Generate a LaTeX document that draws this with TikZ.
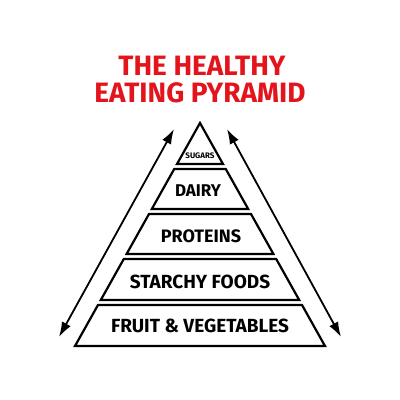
\documentclass[tikz,border=0pt]{standalone}
\usepackage{fontspec}
\setsansfont{Fira Sans}
\usepackage{tikz}
\usetikzlibrary{arrows.meta}
\definecolor{titlered}{HTML}{E3141C}

\begin{document}
\begin{tikzpicture}[
  x=1pt,y=-1pt,
  band/.style={draw,line width=2.2pt,line join=miter},
  bandtext/.style={font=\sffamily\bfseries\fontsize{#1}{#1}\selectfont,inner sep=0pt},
  titletext/.style={font=\sffamily\bfseries\fontsize{28}{28}\selectfont,
    text=titlered,inner sep=0pt},
  flow/.style={line width=1.8pt,{Latex[length=15pt,width=10pt]}-{Latex[length=15pt,width=10pt]}},
  ]
  \useasboundingbox (0,0) rectangle (400,400);
  % title
  \node[titletext] (title1) at (202,66) {THE HEALTHY};
  \node[titletext] (title2) at (200,93) {EATING PYRAMID};
  % bands of the pyramid
  \draw[band] (200,123) -- ({200-0.5605*41},164) -- ({200+0.5605*41},164) -- cycle;
  \foreach \t/\b in {169/209,214/254,259/300,305/346}
  {
    \draw[band]
      ({200-0.5605*(\t-123)},\t) -- ({200+0.5605*(\t-123)},\t)
      -- ({200+0.5605*(\b-123)},\b) -- ({200-0.5605*(\b-123)},\b) -- cycle;
  }
  \node[bandtext=8] (sugars) at (200,156) {SUGARS};
  \node[bandtext=17] (dairy) at (198,191) {DAIRY};
  \node[bandtext=18] (proteins) at (201,236) {PROTEINS};
  \node[bandtext=19] (starchy) at (200,282) {STARCHY FOODS};
  \node[bandtext=19] (fruit) at (200,326) {FRUIT \& VEGETABLES};
  % arrows
  \coordinate (lefttop) at (174,129);
  \coordinate (leftbot) at (59,337);
  \coordinate (righttop) at (227,129);
  \coordinate (rightbot) at (341,337);
  \draw[flow] (leftbot) -- (lefttop);
  \draw[flow] (righttop) -- (rightbot);
\end{tikzpicture}
\end{document}
